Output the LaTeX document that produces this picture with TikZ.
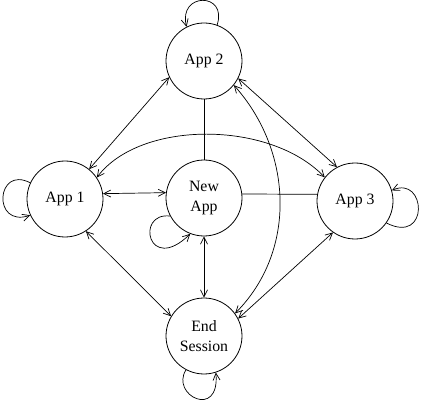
\documentclass[tikz,border=0pt]{standalone}
\usepackage{fontspec}
\setmainfont{Liberation Serif}
\usetikzlibrary{arrows.meta}
\begin{document}
\begin{tikzpicture}[x=1pt,y=-1pt,
  state/.style={circle,draw,line width=0.8pt,minimum size=76pt,inner sep=0pt,align=center,font=\fontsize{15.8}{20.5}\selectfont},
  conn/.style={line width=0.7pt},
  >={Straight Barb[length=7pt,width=7pt]}]
\useasboundingbox (0,0) rectangle (421,401);
\node[state] (app2) at (204,61) {App 2};
\node[state] (app1) at (65,199) {App 1};
\node[state] (new) at (204,198) {New\\App};
\node[state] (app3) at (355,201) {App 3};
\node[state] (end) at (204,336) {End\\Session};
% straight connectors
\draw[conn,<->] (app2.205) -- (app1.51);
\draw[conn,<->] (app2.333) -- (app3.118);
\draw[conn] (app2.270) -- (new.90);
\draw[conn,<->] (app1.8) -- (new.172);
\draw[conn] (new.6) -- (app3.170);
\draw[conn,<->] (new.270) -- (end.90);
\draw[conn,<->] (app1.303) -- (end.149);
\draw[conn,<->] (app3.235) -- (end.27);
% curved connectors
\draw[conn,<->] (app1.34) .. controls (140,120) and (270,120) .. (app3.142);
\draw[conn,<->] (app2.321) .. controls (292,150) and (298,250) .. (end.36);
% self loops
\draw[conn,->] (app2.70) .. controls (228,-8) and (178,-8) .. (app2.117);
\draw[conn,->] (app1.155) .. controls (-4,165) and (-8,228) .. (app1.205);
\draw[conn,->] (app3.-35) .. controls (430,245) and (426,175) .. (app3.16);
\draw[conn,->] (new.208) .. controls (135,212) and (148,275) .. (new.249);
\draw[conn,->] (end.242) .. controls (170,395) and (220,420) .. (end.288);
\end{tikzpicture}
\end{document}
